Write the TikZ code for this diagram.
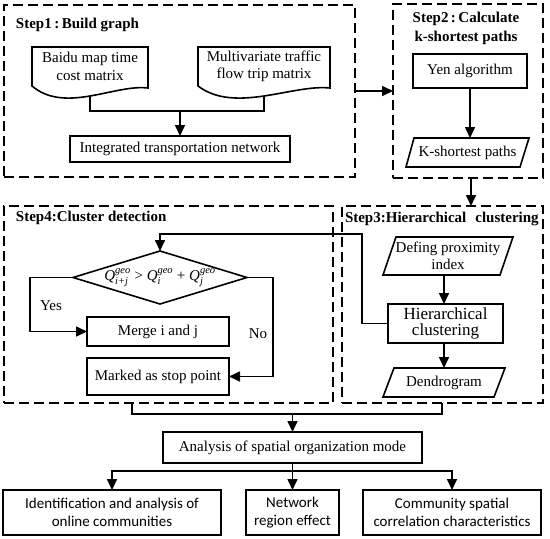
\documentclass[tikz,border=0pt]{standalone}
\usepackage{amsmath}
\usepackage{fontspec}
\setmainfont{Liberation Serif}
\newfontfamily\calfont{Carlito}
\usetikzlibrary{arrows.meta,calc}
\begin{document}
\begin{tikzpicture}[x=1pt,y=-1pt,
  every node/.style={font=\fontsize{15}{17.5}\selectfont, inner sep=0pt, outer sep=0pt},
  frame/.style={draw, line width=1.3pt, dash pattern=on 10pt off 5pt},
  box/.style={draw, line width=1.6pt, align=center},
  plain/.style={align=center},
  ln/.style={line width=1.6pt},
  arr/.style={line width=1.6pt, -{Triangle[length=11pt,width=10pt]}},
  steplabel/.style={font=\fontsize{15}{19}\selectfont\bfseries, align=center},
  sansbox/.style={draw, line width=1.6pt, align=center, font=\calfont\fontsize{15}{17.5}\selectfont}
]
\useasboundingbox (0,0) rectangle (550,539);

% frames
\node[frame, minimum width=351, minimum height=172] (s1) at (179.5,91) {};
\node[frame, minimum width=150, minimum height=174] (s2) at (468,91) {};
\node[frame, minimum width=329, minimum height=197] (s4) at (168.5,304.5) {};
\node[frame, minimum width=201, minimum height=197] (s3) at (442.5,304.5) {};

% step labels
\node[steplabel, anchor=west] (l1) at (16,25) {Step1\,:\,Build graph};
\node[steplabel] (l2) at (466,28) {Step2\,:\,Calculate\\k-shortest paths};
\node[steplabel, anchor=west] (l3) at (345,219) {Step3:Hierarchical\hspace{9pt}clustering};
\node[steplabel, anchor=west] (l4) at (16,218) {Step4:Cluster detection};

% step 1
\node[plain, minimum width=116, minimum height=39] (baidu) at (90,66.5) {Baidu map time\\cost matrix};
\draw[ln] (baidu.north west) -- (baidu.north east) -- ([yshift=-2pt]baidu.south east)
  .. controls +(-33,-4) and +(33,28) .. coordinate[pos=0.5] (bw) (baidu.south west) -- cycle;
\node[plain, minimum width=132, minimum height=39] (multi) at (264,66.5) {Multivariate traffic\\flow trip matrix};
\draw[ln] (multi.north west) -- (multi.north east) -- ([yshift=-2pt]multi.south east)
  .. controls +(-37,-4) and +(37,28) .. coordinate[pos=0.5] (mw) (multi.south west) -- cycle;
\node[box, minimum width=220, minimum height=26] (integ) at (180,149) {Integrated transportation network};
\coordinate (j1) at (180,111);
\draw[ln] (bw) |- (j1) -| (mw);
\draw[arr] (j1) -- (integ.north);

% step 2
\node[box, minimum width=114, minimum height=34] (yen) at (470,71) {Yen algorithm};
\node[plain, minimum width=123, minimum height=29] (kp) at (467.5,152.5) {K-shortest paths};
\draw[ln] ([xshift=8pt]kp.north west) -- (kp.north east) -- ([xshift=-9pt]kp.south east) -- (kp.south west) -- cycle;
\draw[arr] (yen.south) -- (yen.south |- kp.north);

\draw[arr] (s1.east) -- (s2.west);
\draw[arr] ([xshift=3pt]s2.south) -- ([xshift=3pt]s2.south |- s3.north);

% step 3
\node[plain, minimum width=130, minimum height=38] (prox) at (448,256) {Defing proximity\\index};
\draw[ln] ([xshift=13pt]prox.north west) -- (prox.north east) -- ([xshift=-13pt]prox.south east) -- (prox.south west) -- cycle;
\node[box, minimum width=115, minimum height=39, font=\fontsize{17}{15.5}\selectfont] (hier) at (445.5,323.5) {Hierarchical\\clustering};
\node[plain, minimum width=122, minimum height=29] (dend) at (444,382.5) {Dendrogram};
\draw[ln] ([xshift=11pt]dend.north west) -- (dend.north east) -- ([xshift=-11pt]dend.south east) -- (dend.south west) -- cycle;
\draw[arr] (prox.south -| 444,0) -- (444,0 |- hier.north);
\draw[arr] (hier.south -| 444,0) -- (444,0 |- dend.north);

% step 4
\node[plain, minimum width=174, minimum height=53] (dia) at (160,277.5)
  {\textit{Q}$^{\textit{geo}}_{\textit{i+j}}$ > \textit{Q}$^{\textit{geo}}_{\textit{i}}$ + \textit{Q}$^{\textit{geo}}_{\textit{j}}$};
\draw[ln] (dia.north) -- (dia.east) -- (dia.south) -- (dia.west) -- cycle;
\node[box, minimum width=142, minimum height=29] (merge) at (158,331.5) {Merge i and j};
\node[box, minimum width=142, minimum height=37] (mark) at (158,376.5) {Marked as stop point};
\node (yes) at (51,306) {Yes};
\node (no) at (258,334) {No};
\draw[arr] (dia.west) -- ++(-43,0) |- (merge.west);
\draw[arr] (dia.east) -- ++(26,0) |- (mark.east);
\draw[arr] (hier.west) -- ++(-26,0) |- ($(dia.north)+(0,-17)$) -- (dia.north);

% bottom
\coordinate (b4) at (132,403);
\coordinate (b3) at (442,403);
\coordinate (jb) at (292.5,414);
\draw[ln] (b4) -- ++(0,11) -| (b3);
\node[box, minimum width=259, minimum height=31] (anal) at (292.5,447.5) {Analysis of spatial organization mode};
\draw[arr] (jb) -- (anal.north);
\node[sansbox, minimum width=218, minimum height=45] (o1) at (112,512.5) {Identification and analysis of\\online communities};
\node[sansbox, minimum width=93, minimum height=45] (o2) at (292.5,512.5) {Network\\region effect};
\node[sansbox, minimum width=178, minimum height=45] (o3) at (452,512.5) {Community spatial\\correlation characteristics};
\draw[arr] (anal.south) -- ++(0,8) -| (o1.north);
\draw[arr] (anal.south) -- ++(0,8) -| (o3.north);
\draw[arr] (anal.south) -- (o2.north);
\end{tikzpicture}
\end{document}
